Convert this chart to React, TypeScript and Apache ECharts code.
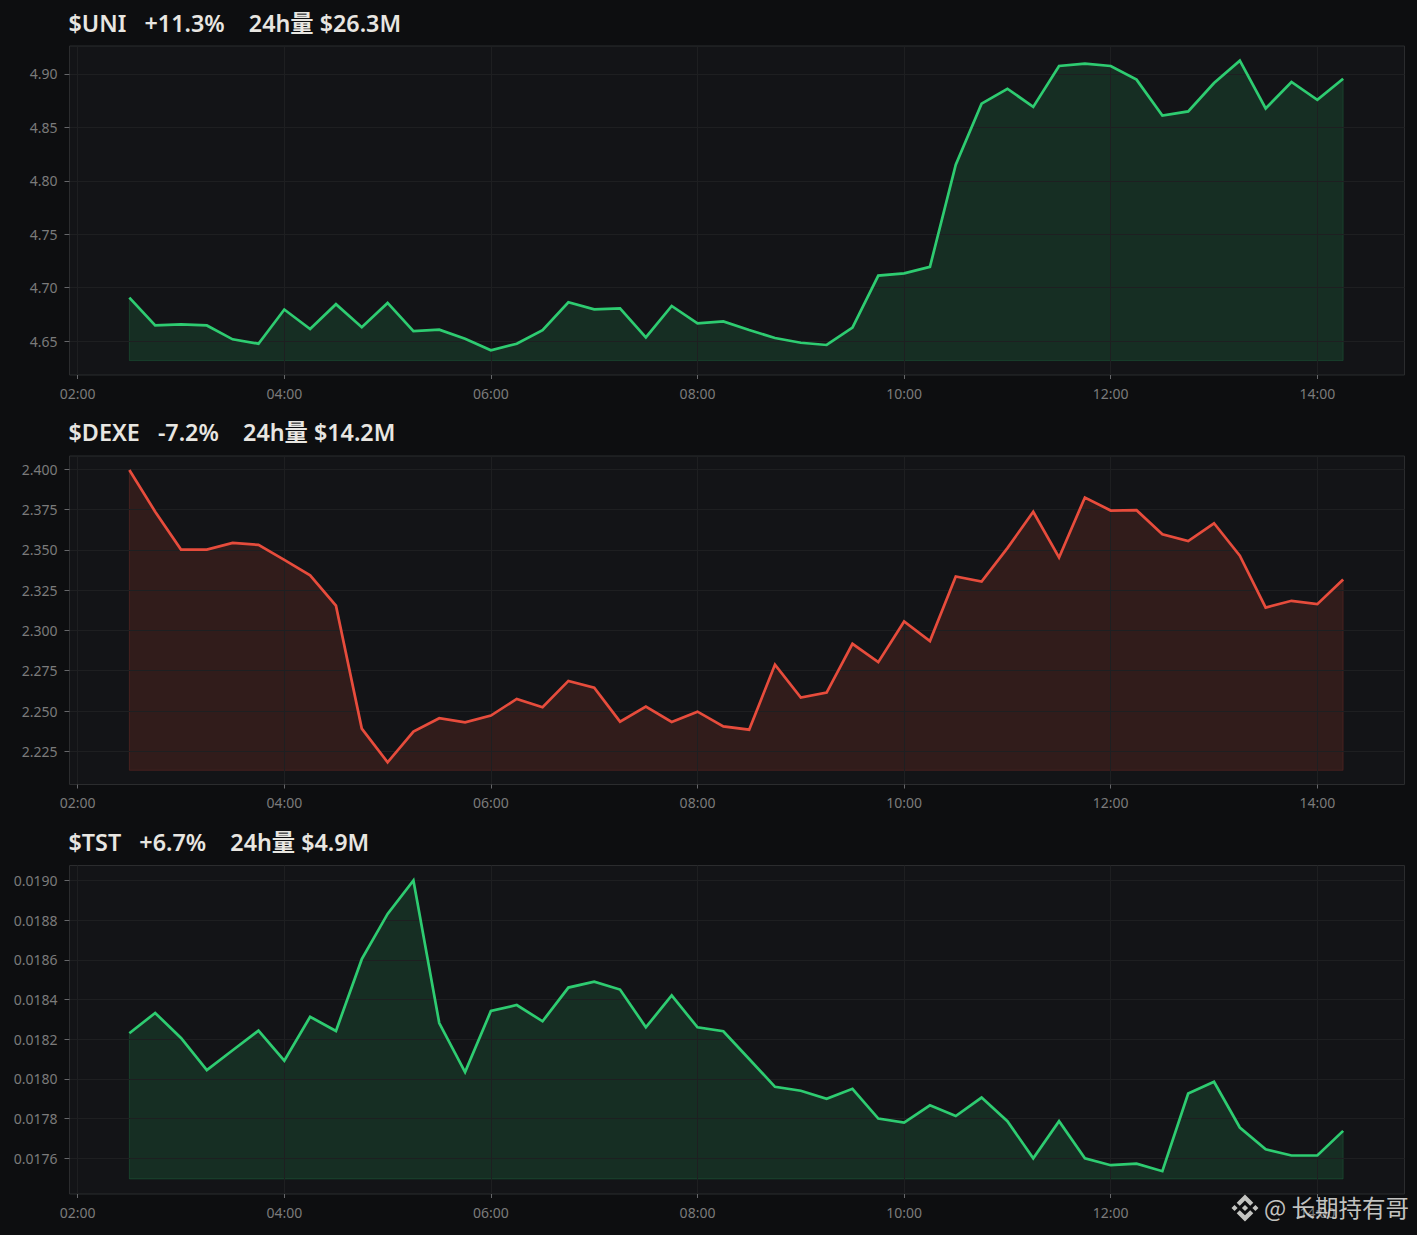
import React, { useEffect, useRef } from "react";
import * as echarts from "echarts";

const times = [
  "02:30","02:45","03:00","03:15","03:30","03:45","04:00","04:15","04:30","04:45","05:00","05:15",
  "05:30","05:45","06:00","06:15","06:30","06:45","07:00","07:15","07:30","07:45","08:00","08:15",
  "08:30","08:45","09:00","09:15","09:30","09:45","10:00","10:15","10:30","10:45","11:00","11:15",
  "11:30","11:45","12:00","12:15","12:30","12:45","13:00","13:15","13:30","13:45","14:00","14:15",
];
const uniValues = [
  4.6907,4.6646,4.6655,4.6646,4.6516,4.6475,4.6795,4.6612,4.6845,4.663,4.6857,4.6593,
  4.6606,4.6522,4.6413,4.6475,4.6602,4.6863,4.6797,4.6806,4.6534,4.6828,4.6666,4.6684,
  4.6603,4.6528,4.6484,4.6463,4.6625,4.7113,4.7134,4.7194,4.815,4.8722,4.8862,4.8692,
  4.9075,4.9097,4.9075,4.8947,4.861,4.865,4.8915,4.9125,4.8677,4.8925,4.8758,4.8956,
];
const dexeValues = [
  2.3996,2.3737,2.3502,2.3502,2.3543,2.3531,2.3438,2.3342,2.3154,2.2391,2.2182,2.2372,
  2.2455,2.243,2.2472,2.2575,2.2523,2.2687,2.2645,2.2434,2.2527,2.2432,2.2496,2.2405,
  2.2384,2.2788,2.2583,2.2614,2.2917,2.2803,2.3056,2.2934,2.3335,2.3304,2.3511,2.3736,
  2.3453,2.3825,2.3744,2.3746,2.3597,2.3555,2.3665,2.3464,2.3142,2.3184,2.3163,2.3316,
];
const tstValues = [
  0.01823,0.018332,0.018206,0.018044,0.018144,0.018243,0.018092,0.018313,0.018241,0.018603,0.018831,0.019,
  0.018281,0.018034,0.018342,0.018372,0.01829,0.01846,0.01849,0.01845,0.01826,0.01842,0.01826,0.01824,
  0.0181,0.01796,0.01794,0.0179,0.01795,0.0178,0.01778,0.017867,0.017813,0.017906,0.017787,0.0176,
  0.017787,0.0176,0.017565,0.017573,0.017535,0.017926,0.017985,0.017755,0.017645,0.017614,0.017614,0.017738,
];
const uniTicks = [4.65, 4.7, 4.75, 4.8, 4.85, 4.9];
const dexeTicks = [2.225, 2.25, 2.275, 2.3, 2.325, 2.35, 2.375, 2.4];
const tstTicks = [0.0176, 0.0178, 0.018, 0.0182, 0.0184, 0.0186, 0.0188, 0.019];
const hourTicks = [2, 4, 6, 8, 10, 12, 14];
const titles = ["$UNI   +11.3%    24h量 $26.3M", "$DEXE   -7.2%    24h量 $14.2M", "$TST   +6.7%    24h量 $4.9M"];
const watermark = "@ 长期持有哥";

const GREEN = "#2ecc71";
const RED = "#e74c3c";
const LABEL = "#7b7b7b";
const FONT = "'Noto Sans', 'Noto Sans CJK SC', sans-serif";
const TITLE_FONT = "'Noto Sans', 'Noto Sans CJK SC', sans-serif";

const toHours = (t: string) => {
  const [h, m] = t.split(":").map(Number);
  return h + m / 60;
};
const hourLabel = (h: number) => `${String(h).padStart(2, "0")}:00`;

const LOGO =
  "M38.73 53.2 63.3 28.63l24.59 24.59 14.3-14.3L63.3 0 24.43 38.88l14.3 14.3z" +
  "M0 63.31l14.3-14.3 14.3 14.3-14.3 14.3z" +
  "M38.73 73.41 63.3 97.98l24.59-24.59 14.31 14.29-38.9 38.92-38.87-38.86-.02-.02z" +
  "M97.98 63.32l14.3-14.3 14.3 14.3-14.3 14.3z" +
  "M77.83 63.3 63.3 48.76 52.55 59.51l-1.24 1.23-2.54 2.55 14.53 14.52 14.53-14.51z";
echarts.graphic.registerShape("logo", (echarts.graphic as any).extendPath(LOGO, {}));

const panels = [
  { values: uniValues, ticks: uniTicks, digits: 2, color: GREEN, base: 4.6317, yMin: 4.6182, yMax: 4.9262, top: 46, bottom: 375, titleTop: 11 },
  { values: dexeValues, ticks: dexeTicks, digits: 3, color: RED, base: 2.2132, yMin: 2.2044, yMax: 2.40825, top: 456, bottom: 784.5, titleTop: 420 },
  { values: tstValues, ticks: tstTicks, digits: 4, color: GREEN, base: 0.017496, yMin: 0.01742, yMax: 0.019075, top: 865.5, bottom: 1194, titleTop: 830 },
];

const X_MIN = 1.9206;
const X_MAX = 14.844;

function buildOption() {
  const hours = times.map(toHours);
  const grid: any[] = [];
  const xAxis: any[] = [];
  const yAxis: any[] = [];
  const series: any[] = [];
  panels.forEach((p, i) => {
    grid.push({
      left: 69.5, width: 1335, top: p.top, height: p.bottom - p.top, show: true,
      backgroundColor: "#131417", borderColor: "#2b2c2e", borderWidth: 1,
    });
    xAxis.push({
      type: "value", gridIndex: i, min: X_MIN, max: X_MAX, z: 3,
      axisLine: { show: false },
      axisTick: { show: true, length: 4, customValues: hourTicks, lineStyle: { color: "#66676a", width: 1 } },
      axisLabel: { show: true, customValues: hourTicks, color: LABEL, fontSize: 14, fontFamily: FONT, margin: 11, formatter: (v: number) => hourLabel(v) },
      splitLine: { show: true, lineStyle: { color: "#1e1f21", width: 1 } },
    });
    yAxis.push({
      type: "value", gridIndex: i, min: p.yMin, max: p.yMax, z: 3,
      axisLine: { show: false },
      axisTick: { show: true, length: 5, customValues: p.ticks, lineStyle: { color: "#66676a", width: 1 } },
      axisLabel: { show: true, customValues: p.ticks, color: LABEL, fontSize: 14, fontFamily: FONT, margin: 12, formatter: (v: number) => v.toFixed(p.digits) },
      splitLine: { show: true, lineStyle: { color: "#1e1f21", width: 1 } },
    });
    const pts = p.values.map((v, k) => [hours[k], v]);
    const last = pts.length - 1;
    series.push({
      type: "line", xAxisIndex: i, yAxisIndex: i, data: pts, showSymbol: false, symbol: "none", z: 2, silent: true,
      lineStyle: { width: 0, opacity: 0 },
      areaStyle: { color: p.color, opacity: 0.14, origin: p.base },
    });
    series.push({
      type: "line", xAxisIndex: i, yAxisIndex: i, showSymbol: false, symbol: "none", z: 2, silent: true,
      data: [pts[0], [pts[0][0], p.base], [pts[last][0], p.base], pts[last]],
      lineStyle: { width: 1, color: p.color, opacity: 0.18 },
    });
    series.push({
      type: "line", xAxisIndex: i, yAxisIndex: i, data: pts, showSymbol: false, symbol: "none", z: 4, silent: true,
      lineStyle: { width: 2.7, color: p.color, join: "miter", cap: "butt" },
    });
  });
  return {
    animation: false,
    backgroundColor: "#0d0e10",
    grid, xAxis, yAxis, series,
    title: panels.map((p, i) => ({
      text: titles[i], left: 68.5, top: p.titleTop, padding: 0,
      textStyle: { color: "#e8e6e1", fontSize: 23.3, fontWeight: 600, fontFamily: TITLE_FONT },
    })),
    graphic: [
      { type: "logo", x: 1231.5, y: 1194.5, scaleX: 0.213, scaleY: 0.213, z: 20, style: { fill: "rgba(228,228,225,0.85)" } },
      { type: "text", x: 1264, y: 1206.5, z: 20, style: { text: watermark, fill: "rgba(228,228,225,0.85)", font: "23.5px 'Noto Sans CJK SC', 'Noto Sans', sans-serif", verticalAlign: "middle" } },
    ],
  };
}

export default function App() {
  const ref = useRef<HTMLDivElement>(null);
  useEffect(() => {
    document.body.style.margin = "0";
    const chart = echarts.init(ref.current!, undefined, { renderer: "svg" });
    chart.setOption(buildOption() as any);
    return () => chart.dispose();
  }, []);
  return <div ref={ref} style={{ width: 1417, height: 1235 }} />;
}
